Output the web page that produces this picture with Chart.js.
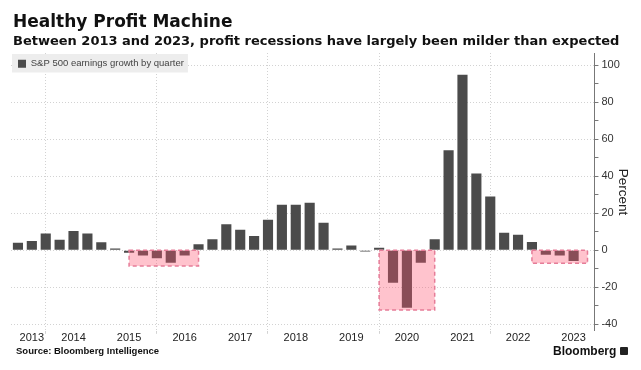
<!DOCTYPE html>
<html>
<head>
<meta charset="utf-8">
<script src="https://cdn.jsdelivr.net/npm/chart.js@4"></script>
<style>
  html, body { margin: 0; padding: 0; background: #fff; }
  #wrap { position: relative; width: 641px; height: 370px; overflow: hidden; }
  #chart { position: absolute; left: 0; top: 0; }
  .title { position: absolute; left: 13px; top: 13px; font: bold 17px 'DejaVu Sans', sans-serif; line-height: 1; color: #111; white-space: nowrap; }
  .subtitle { position: absolute; left: 13px; top: 34px; font: bold 13px 'DejaVu Sans', sans-serif; line-height: 1; color: #111; white-space: nowrap; }
  .source { position: absolute; left: 16px; top: 346px; font: bold 9.5px 'Liberation Sans', Arial, sans-serif; line-height: 1; color: #111; white-space: nowrap; }
  .brand { position: absolute; left: 553px; top: 345px; font: bold 12px 'Liberation Sans', Arial, sans-serif; line-height: 1; color: #111; white-space: nowrap; }
  .brand-icon { position: absolute; left: 620px; top: 347px; width: 8px; height: 8px; background: #222; border-radius: 1px; }
</style>
</head>
<body>
<div id="wrap">
  <canvas id="chart" width="641" height="370"></canvas>
  <div class="title">Healthy Profit Machine</div>
  <div class="subtitle">Between 2013 and 2023, profit recessions have largely been milder than expected</div>
  <div class="source">Source: Bloomberg Intelligence</div>
  <div class="brand">Bloomberg</div>
  <div class="brand-icon"></div>
</div>
<script>
/* S&P 500 earnings growth by quarter — Chart.js */

const YEARS    = ['2013', '2014', '2015', '2016', '2017', '2018', '2019', '2020', '2021', '2022', '2023'];
const QUARTERS = ['Q1', 'Q2', 'Q3', 'Q4'];
const LABELS   = YEARS.flatMap(y => QUARTERS.map(q => y + ' ' + q)).slice(0, 42);

// percent, 2013 Q1 .. 2023 Q1
const GROWTH = [
  4.1, 5.0, 9.0, 5.6,
  10.4, 9.0, 4.3, 0.9,
  -1.3, -2.9, -4.3, -6.7,
  -2.9, 3.2, 5.9, 14.0,
  11.0, 7.7, 16.4, 24.5,
  24.5, 25.7, 14.9, 0.9,
  2.5, -0.7, 1.4, -17.5,
  -31.0, -6.7, 5.9, 54.0,
  94.8, 41.4, 29.0, 9.5,
  8.4, 4.5, -2.4, -2.9,
  -5.8
];

// x-axis: where year labels and vertical grid lines sit (category index)
const YEAR_TICK_INDEX = [1, 4, 8, 12, 16, 20, 24, 28, 32, 36, 40];
const GRID_INDEX      = [2, 10, 18, 26, 34];

// y-axis: tick marks every 10, labels and grid lines every 20
const Y_TICKS  = [-40, -30, -20, -10, 0, 10, 20, 30, 40, 50, 60, 70, 80, 90, 100];
const Y_LABELS = [-40, -20, 0, 20, 40, 60, 80, 100];
const Y_MIN = -43.5;
const Y_MAX = 106.5;

// profit recession shading (category index range, lower edge in percent)
const REC_START = [8, 26, 37];
const REC_END   = [13, 30, 41];
const REC_LOW   = [-8.5, -32.3, -7.0];

const BAR   = '#4b4b4b';
const GRID  = '#d2d2d2';
const CLEAR = 'rgba(0,0,0,0)';

const recessionBoxes = {
  id: 'recessionBoxes',
  afterDatasetsDraw(chart) {
    const { ctx, scales: { x, y } } = chart;
    ctx.save();
    REC_START.forEach((s, i) => {
      const x0 = x.getPixelForValue(s);
      const x1 = x.getPixelForValue(REC_END[i]);
      const y0 = y.getPixelForValue(0);
      const y1 = y.getPixelForValue(REC_LOW[i]);
      ctx.fillStyle = 'rgba(255,83,111,0.35)';
      ctx.fillRect(x0, y0, x1 - x0, y1 - y0);
      ctx.setLineDash([4, 3]);
      ctx.lineWidth = 1.5;
      ctx.strokeStyle = '#e67c98';
      ctx.strokeRect(x0, y0, x1 - x0, y1 - y0);
    });
    ctx.restore();
  }
};

// legend inside the plot, top-left, on a grey panel
const legendPanel = {
  id: 'legendPanel',
  afterLayout(chart) {
    const lg = chart.legend;
    if (!lg) return;
    lg.left = chart.chartArea.left;
    lg.top = chart.chartArea.top - 1;
    lg.bottom = chart.chartArea.bottom;
  },
  afterDatasetsDraw(chart) {
    const lg = chart.legend;
    const hb = lg && lg.legendHitBoxes && lg.legendHitBoxes[0];
    if (!hb) return;
    const ctx = chart.ctx;
    ctx.save();
    ctx.fillStyle = '#ededed';
    ctx.fillRect(hb.left - 6, hb.top - 5, hb.width + 10, hb.height + 9);
    ctx.restore();
    lg.draw();
  }
};

new Chart(document.getElementById('chart'), {
  type: 'bar',
  data: {
    labels: LABELS,
    datasets: [{
      label: 'S&P 500 earnings growth by quarter',
      data: GROWTH,
      backgroundColor: BAR,
      borderWidth: 0,
      barPercentage: 0.73,
      categoryPercentage: 1
    }]
  },
  options: {
    responsive: false,
    animation: false,
    devicePixelRatio: 1,
    layout: { padding: { left: 11, top: 53, right: 0, bottom: 27 } },
    plugins: {
      tooltip: { enabled: false },
      legend: {
        position: 'chartArea',
        align: 'start',
        labels: { boxWidth: 8, boxHeight: 8, padding: 7, color: '#444', font: { family: 'Liberation Sans', size: 9.5 } }
      }
    },
    scales: {
      x: {
        offset: true,
        grid: {
          offset: false,
          color: c => GRID_INDEX.includes(c.index) ? GRID : CLEAR,
          tickColor: c => GRID_INDEX.includes(c.index) ? GRID : CLEAR,
          tickLength: 3
        },
        border: { display: false, dash: [1, 2] },
        ticks: {
          autoSkip: false,
          maxRotation: 0,
          padding: -2,
          color: '#222',
          font: { family: 'Liberation Sans', size: 11 },
          callback: (v, i) => {
            const k = YEAR_TICK_INDEX.indexOf(i);
            return k >= 0 ? YEARS[k] : '';
          }
        }
      },
      y: {
        position: 'right',
        min: Y_MIN,
        max: Y_MAX,
        afterBuildTicks: s => { s.ticks = Y_TICKS.map(v => ({ value: v })); },
        grid: {
          color: c => (c.tick && Y_LABELS.includes(c.tick.value)) ? GRID : CLEAR,
          tickColor: '#777',
          tickLength: 4
        },
        border: { display: true, color: '#777', width: 1, dash: [1, 2] },
        ticks: {
          padding: 3,
          color: '#333',
          font: { family: 'Liberation Sans', size: 11 },
          callback: v => (Y_LABELS.includes(v) ? v : '')
        },
        title: {
          display: true,
          text: 'Percent',
          color: '#222',
          font: { family: 'Liberation Sans', size: 13.5 },
          padding: { top: 10, bottom: -8 }
        }
      }
    }
  },
  plugins: [recessionBoxes, legendPanel]
});
</script>
</body>
</html>
